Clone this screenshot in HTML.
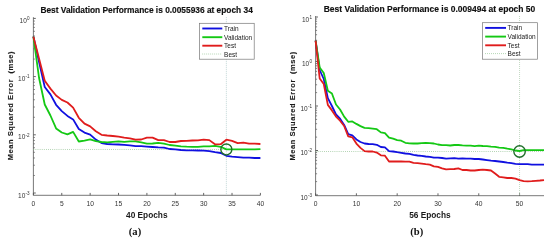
<!DOCTYPE html>
<html><head><meta charset="utf-8"><title>Performance</title>
<style>
html,body{margin:0;padding:0;background:#fff;}
body{width:550px;height:241px;overflow:hidden;}
svg{display:block;}
text{font-family:"Liberation Sans",Arial,sans-serif;}
.ti{font-size:8.35px;font-weight:bold;fill:#111;stroke:#111;stroke-width:0.15px;}
.lb{font-size:8.3px;font-weight:bold;fill:#1a1a1a;white-space:pre;}
.yl{font-size:7.5px;letter-spacing:0.54px;stroke:#1a1a1a;stroke-width:0.12px;}
.tk{font-size:6.7px;fill:#333;}
.ytk{font-size:6.5px;}
.sup{font-size:4.6px;}
.lg{font-size:6.5px;fill:#1a1a1a;}
.cap{font-family:"Liberation Serif","Times New Roman",serif;font-size:10.6px;font-weight:bold;fill:#111;}
</style></head>
<body>
<svg width="550" height="241" viewBox="0 0 550 241">
<rect width="550" height="241" fill="#fff"/>
<line x1="33.4" y1="17.2" x2="33.4" y2="195.3" stroke="#555" stroke-width="0.8"/>
<line x1="33.4" y1="195.3" x2="260.4" y2="195.3" stroke="#555" stroke-width="0.8"/>
<line x1="33.40" y1="195.3" x2="33.40" y2="192.9" stroke="#555" stroke-width="0.9"/>
<text x="33.40" y="205.5" class="tk" text-anchor="middle">0</text>
<line x1="61.77" y1="195.3" x2="61.77" y2="192.9" stroke="#555" stroke-width="0.9"/>
<text x="61.77" y="205.5" class="tk" text-anchor="middle">5</text>
<line x1="90.15" y1="195.3" x2="90.15" y2="192.9" stroke="#555" stroke-width="0.9"/>
<text x="90.15" y="205.5" class="tk" text-anchor="middle">10</text>
<line x1="118.53" y1="195.3" x2="118.53" y2="192.9" stroke="#555" stroke-width="0.9"/>
<text x="118.53" y="205.5" class="tk" text-anchor="middle">15</text>
<line x1="146.90" y1="195.3" x2="146.90" y2="192.9" stroke="#555" stroke-width="0.9"/>
<text x="146.90" y="205.5" class="tk" text-anchor="middle">20</text>
<line x1="175.28" y1="195.3" x2="175.28" y2="192.9" stroke="#555" stroke-width="0.9"/>
<text x="175.28" y="205.5" class="tk" text-anchor="middle">25</text>
<line x1="203.65" y1="195.3" x2="203.65" y2="192.9" stroke="#555" stroke-width="0.9"/>
<text x="203.65" y="205.5" class="tk" text-anchor="middle">30</text>
<line x1="232.03" y1="195.3" x2="232.03" y2="192.9" stroke="#555" stroke-width="0.9"/>
<text x="232.03" y="205.5" class="tk" text-anchor="middle">35</text>
<line x1="260.40" y1="195.3" x2="260.40" y2="192.9" stroke="#555" stroke-width="0.9"/>
<text x="260.40" y="205.5" class="tk" text-anchor="middle">40</text>
<line x1="33.4" y1="18.40" x2="35.8" y2="18.40" stroke="#555" stroke-width="0.9"/>
<line x1="33.4" y1="76.60" x2="35.8" y2="76.60" stroke="#555" stroke-width="0.9"/>
<line x1="33.4" y1="59.08" x2="34.9" y2="59.08" stroke="#555" stroke-width="0.7"/>
<line x1="33.4" y1="48.83" x2="34.9" y2="48.83" stroke="#555" stroke-width="0.7"/>
<line x1="33.4" y1="41.56" x2="34.9" y2="41.56" stroke="#555" stroke-width="0.7"/>
<line x1="33.4" y1="35.92" x2="34.9" y2="35.92" stroke="#555" stroke-width="0.7"/>
<line x1="33.4" y1="31.31" x2="34.9" y2="31.31" stroke="#555" stroke-width="0.7"/>
<line x1="33.4" y1="27.42" x2="34.9" y2="27.42" stroke="#555" stroke-width="0.7"/>
<line x1="33.4" y1="24.04" x2="34.9" y2="24.04" stroke="#555" stroke-width="0.7"/>
<line x1="33.4" y1="21.06" x2="34.9" y2="21.06" stroke="#555" stroke-width="0.7"/>
<line x1="33.4" y1="134.80" x2="35.8" y2="134.80" stroke="#555" stroke-width="0.9"/>
<line x1="33.4" y1="117.28" x2="34.9" y2="117.28" stroke="#555" stroke-width="0.7"/>
<line x1="33.4" y1="107.03" x2="34.9" y2="107.03" stroke="#555" stroke-width="0.7"/>
<line x1="33.4" y1="99.76" x2="34.9" y2="99.76" stroke="#555" stroke-width="0.7"/>
<line x1="33.4" y1="94.12" x2="34.9" y2="94.12" stroke="#555" stroke-width="0.7"/>
<line x1="33.4" y1="89.51" x2="34.9" y2="89.51" stroke="#555" stroke-width="0.7"/>
<line x1="33.4" y1="85.62" x2="34.9" y2="85.62" stroke="#555" stroke-width="0.7"/>
<line x1="33.4" y1="82.24" x2="34.9" y2="82.24" stroke="#555" stroke-width="0.7"/>
<line x1="33.4" y1="79.26" x2="34.9" y2="79.26" stroke="#555" stroke-width="0.7"/>
<line x1="33.4" y1="193.00" x2="35.8" y2="193.00" stroke="#555" stroke-width="0.9"/>
<line x1="33.4" y1="175.48" x2="34.9" y2="175.48" stroke="#555" stroke-width="0.7"/>
<line x1="33.4" y1="165.23" x2="34.9" y2="165.23" stroke="#555" stroke-width="0.7"/>
<line x1="33.4" y1="157.96" x2="34.9" y2="157.96" stroke="#555" stroke-width="0.7"/>
<line x1="33.4" y1="152.32" x2="34.9" y2="152.32" stroke="#555" stroke-width="0.7"/>
<line x1="33.4" y1="147.71" x2="34.9" y2="147.71" stroke="#555" stroke-width="0.7"/>
<line x1="33.4" y1="143.82" x2="34.9" y2="143.82" stroke="#555" stroke-width="0.7"/>
<line x1="33.4" y1="140.44" x2="34.9" y2="140.44" stroke="#555" stroke-width="0.7"/>
<line x1="33.4" y1="137.46" x2="34.9" y2="137.46" stroke="#555" stroke-width="0.7"/>
<text x="29.6" y="22.90" class="tk ytk" text-anchor="end">10<tspan class="sup" dx="0.2" dy="-2.8">0</tspan></text>
<text x="29.6" y="81.10" class="tk ytk" text-anchor="end">10<tspan class="sup" dx="0.2" dy="-2.8">-1</tspan></text>
<text x="29.6" y="139.30" class="tk ytk" text-anchor="end">10<tspan class="sup" dx="0.2" dy="-2.8">-2</tspan></text>
<text x="29.6" y="197.50" class="tk ytk" text-anchor="end">10<tspan class="sup" dx="0.2" dy="-2.8">-3</tspan></text>
<line x1="33.4" y1="149.48" x2="260.4" y2="149.48" stroke="#8cbc8c" stroke-width="0.8" stroke-dasharray="0.8 1.3"/>
<line x1="226.35" y1="17.2" x2="226.35" y2="195.3" stroke="#aec9ca" stroke-width="0.75" stroke-dasharray="1 1"/>
<polyline points="33.40,36.60 39.07,62.00 44.75,87.00 50.42,94.40 56.10,104.80 61.77,111.10 67.45,115.90 73.12,119.40 78.80,129.00 84.47,132.60 90.15,134.60 95.82,139.60 101.50,143.10 107.17,144.00 112.85,144.30 118.53,144.50 124.20,144.90 129.88,145.30 135.55,146.10 141.22,146.10 146.90,146.60 152.57,147.00 158.25,147.40 163.93,147.60 169.60,149.00 175.28,149.40 180.95,150.00 186.62,150.30 192.30,150.40 197.97,150.50 203.65,150.70 209.32,151.10 215.00,152.20 220.68,153.00 226.35,155.80 232.03,156.70 237.70,157.10 243.38,157.70 249.05,157.70 254.72,158.00 260.40,158.00" fill="none" stroke="#1010e0" stroke-width="1.8" stroke-linejoin="round"/>
<polyline points="33.40,36.60 39.07,78.00 44.75,104.50 50.42,115.50 56.10,128.40 61.77,132.50 67.45,134.40 73.12,131.90 78.80,141.50 84.47,140.60 90.15,139.40 95.82,141.20 101.50,142.00 107.17,142.40 112.85,141.80 118.53,141.40 124.20,141.80 129.88,141.40 135.55,141.40 141.22,142.40 146.90,143.60 152.57,143.50 158.25,142.80 163.93,143.60 169.60,145.00 175.28,145.60 180.95,146.40 186.62,146.70 192.30,146.80 197.97,146.80 203.65,146.30 209.32,146.30 215.00,145.90 220.68,146.80 226.35,149.40 232.03,149.30 237.70,149.30 243.38,149.30 249.05,149.30 254.72,149.30 260.40,149.10" fill="none" stroke="#14c814" stroke-width="1.8" stroke-linejoin="round"/>
<polyline points="33.40,36.60 44.75,80.80 50.42,88.60 56.10,95.50 61.77,99.90 67.45,102.50 73.12,107.60 78.80,117.80 84.47,123.60 90.15,126.40 95.82,131.30 101.50,134.80 107.17,135.50 112.85,136.00 118.53,136.60 124.20,137.60 129.88,138.30 135.55,139.70 141.22,139.50 146.90,137.60 152.57,137.60 158.25,140.10 163.93,140.10 169.60,142.00 175.28,142.00 180.95,141.00 186.62,140.80 192.30,140.50 197.97,140.30 203.65,139.70 209.32,140.10 215.00,144.30 220.68,144.20 226.35,139.70 232.03,140.90 237.70,143.10 243.38,142.70 249.05,143.70 254.72,143.70 260.40,144.00" fill="none" stroke="#e01c1c" stroke-width="1.8" stroke-linejoin="round"/>
<circle cx="226.35" cy="149.48" r="5.5" fill="none" stroke="#1f6f2a" stroke-width="1.4"/>
<rect x="199.6" y="23.3" width="54.599999999999994" height="35.900000000000006" fill="#fff" stroke="#777" stroke-width="0.7"/>
<line x1="202.3" y1="28.5" x2="222.3" y2="28.5" stroke="#1010e0" stroke-width="1.9"/>
<text x="224.1" y="31.00" class="lg">Train</text>
<line x1="202.3" y1="37.2" x2="222.3" y2="37.2" stroke="#14c814" stroke-width="1.9"/>
<text x="224.1" y="39.70" class="lg">Validation</text>
<line x1="202.3" y1="45.7" x2="222.3" y2="45.7" stroke="#e01c1c" stroke-width="1.9"/>
<text x="224.1" y="48.20" class="lg">Test</text>
<line x1="202.3" y1="54.0" x2="222.3" y2="54.0" stroke="#8fc48f" stroke-width="0.8" stroke-dasharray="0.8 1.2"/>
<text x="224.1" y="56.50" class="lg">Best</text>
<text x="146.6" y="12.5" class="ti" text-anchor="middle">Best Validation Performance is 0.0055936 at epoch 34</text>
<text x="146.8" y="217.7" class="lb" text-anchor="middle">40 Epochs</text>
<text transform="translate(12.6,105.6) rotate(-90)" class="lb yl" text-anchor="middle">Mean Squared Error  (mse)</text>
<text x="135" y="235.2" class="cap" text-anchor="middle">(a)</text>
<line x1="315.6" y1="16.0" x2="315.6" y2="195.7" stroke="#555" stroke-width="0.8"/>
<line x1="315.6" y1="195.7" x2="544.0" y2="195.7" stroke="#555" stroke-width="0.8"/>
<line x1="315.60" y1="195.7" x2="315.60" y2="193.29999999999998" stroke="#555" stroke-width="0.9"/>
<text x="315.60" y="205.89999999999998" class="tk" text-anchor="middle">0</text>
<line x1="356.39" y1="195.7" x2="356.39" y2="193.29999999999998" stroke="#555" stroke-width="0.9"/>
<text x="356.39" y="205.89999999999998" class="tk" text-anchor="middle">10</text>
<line x1="397.18" y1="195.7" x2="397.18" y2="193.29999999999998" stroke="#555" stroke-width="0.9"/>
<text x="397.18" y="205.89999999999998" class="tk" text-anchor="middle">20</text>
<line x1="437.97" y1="195.7" x2="437.97" y2="193.29999999999998" stroke="#555" stroke-width="0.9"/>
<text x="437.97" y="205.89999999999998" class="tk" text-anchor="middle">30</text>
<line x1="478.76" y1="195.7" x2="478.76" y2="193.29999999999998" stroke="#555" stroke-width="0.9"/>
<text x="478.76" y="205.89999999999998" class="tk" text-anchor="middle">40</text>
<line x1="519.55" y1="195.7" x2="519.55" y2="193.29999999999998" stroke="#555" stroke-width="0.9"/>
<text x="519.55" y="205.89999999999998" class="tk" text-anchor="middle">50</text>
<line x1="315.6" y1="17.00" x2="318.0" y2="17.00" stroke="#555" stroke-width="0.9"/>
<line x1="315.6" y1="61.50" x2="318.0" y2="61.50" stroke="#555" stroke-width="0.9"/>
<line x1="315.6" y1="48.10" x2="317.1" y2="48.10" stroke="#555" stroke-width="0.7"/>
<line x1="315.6" y1="40.27" x2="317.1" y2="40.27" stroke="#555" stroke-width="0.7"/>
<line x1="315.6" y1="34.71" x2="317.1" y2="34.71" stroke="#555" stroke-width="0.7"/>
<line x1="315.6" y1="30.40" x2="317.1" y2="30.40" stroke="#555" stroke-width="0.7"/>
<line x1="315.6" y1="26.87" x2="317.1" y2="26.87" stroke="#555" stroke-width="0.7"/>
<line x1="315.6" y1="23.89" x2="317.1" y2="23.89" stroke="#555" stroke-width="0.7"/>
<line x1="315.6" y1="21.31" x2="317.1" y2="21.31" stroke="#555" stroke-width="0.7"/>
<line x1="315.6" y1="19.04" x2="317.1" y2="19.04" stroke="#555" stroke-width="0.7"/>
<line x1="315.6" y1="106.00" x2="318.0" y2="106.00" stroke="#555" stroke-width="0.9"/>
<line x1="315.6" y1="92.60" x2="317.1" y2="92.60" stroke="#555" stroke-width="0.7"/>
<line x1="315.6" y1="84.77" x2="317.1" y2="84.77" stroke="#555" stroke-width="0.7"/>
<line x1="315.6" y1="79.21" x2="317.1" y2="79.21" stroke="#555" stroke-width="0.7"/>
<line x1="315.6" y1="74.90" x2="317.1" y2="74.90" stroke="#555" stroke-width="0.7"/>
<line x1="315.6" y1="71.37" x2="317.1" y2="71.37" stroke="#555" stroke-width="0.7"/>
<line x1="315.6" y1="68.39" x2="317.1" y2="68.39" stroke="#555" stroke-width="0.7"/>
<line x1="315.6" y1="65.81" x2="317.1" y2="65.81" stroke="#555" stroke-width="0.7"/>
<line x1="315.6" y1="63.54" x2="317.1" y2="63.54" stroke="#555" stroke-width="0.7"/>
<line x1="315.6" y1="150.50" x2="318.0" y2="150.50" stroke="#555" stroke-width="0.9"/>
<line x1="315.6" y1="137.10" x2="317.1" y2="137.10" stroke="#555" stroke-width="0.7"/>
<line x1="315.6" y1="129.27" x2="317.1" y2="129.27" stroke="#555" stroke-width="0.7"/>
<line x1="315.6" y1="123.71" x2="317.1" y2="123.71" stroke="#555" stroke-width="0.7"/>
<line x1="315.6" y1="119.40" x2="317.1" y2="119.40" stroke="#555" stroke-width="0.7"/>
<line x1="315.6" y1="115.87" x2="317.1" y2="115.87" stroke="#555" stroke-width="0.7"/>
<line x1="315.6" y1="112.89" x2="317.1" y2="112.89" stroke="#555" stroke-width="0.7"/>
<line x1="315.6" y1="110.31" x2="317.1" y2="110.31" stroke="#555" stroke-width="0.7"/>
<line x1="315.6" y1="108.04" x2="317.1" y2="108.04" stroke="#555" stroke-width="0.7"/>
<line x1="315.6" y1="195.00" x2="318.0" y2="195.00" stroke="#555" stroke-width="0.9"/>
<line x1="315.6" y1="181.60" x2="317.1" y2="181.60" stroke="#555" stroke-width="0.7"/>
<line x1="315.6" y1="173.77" x2="317.1" y2="173.77" stroke="#555" stroke-width="0.7"/>
<line x1="315.6" y1="168.21" x2="317.1" y2="168.21" stroke="#555" stroke-width="0.7"/>
<line x1="315.6" y1="163.90" x2="317.1" y2="163.90" stroke="#555" stroke-width="0.7"/>
<line x1="315.6" y1="160.37" x2="317.1" y2="160.37" stroke="#555" stroke-width="0.7"/>
<line x1="315.6" y1="157.39" x2="317.1" y2="157.39" stroke="#555" stroke-width="0.7"/>
<line x1="315.6" y1="154.81" x2="317.1" y2="154.81" stroke="#555" stroke-width="0.7"/>
<line x1="315.6" y1="152.54" x2="317.1" y2="152.54" stroke="#555" stroke-width="0.7"/>
<text x="312.0" y="21.50" class="tk ytk" text-anchor="end">10<tspan class="sup" dx="0.2" dy="-2.8">1</tspan></text>
<text x="312.0" y="66.00" class="tk ytk" text-anchor="end">10<tspan class="sup" dx="0.2" dy="-2.8">0</tspan></text>
<text x="312.0" y="110.50" class="tk ytk" text-anchor="end">10<tspan class="sup" dx="0.2" dy="-2.8">-1</tspan></text>
<text x="312.0" y="155.00" class="tk ytk" text-anchor="end">10<tspan class="sup" dx="0.2" dy="-2.8">-2</tspan></text>
<text x="312.0" y="199.50" class="tk ytk" text-anchor="end">10<tspan class="sup" dx="0.2" dy="-2.8">-3</tspan></text>
<line x1="315.6" y1="151.50" x2="544.0" y2="151.50" stroke="#8cbc8c" stroke-width="0.8" stroke-dasharray="0.8 1.3"/>
<line x1="519.55" y1="16.0" x2="519.55" y2="195.7" stroke="#b0cdb0" stroke-width="0.75" stroke-dasharray="1 1"/>
<polyline points="315.60,40.60 319.68,70.00 323.76,79.00 327.84,98.20 331.92,106.00 336.00,114.50 340.07,118.70 344.15,124.90 348.23,134.20 352.31,135.30 356.39,139.40 360.47,142.00 364.55,143.50 368.63,144.00 372.71,144.20 376.79,144.80 380.86,147.00 384.94,147.40 389.02,151.10 393.10,151.50 397.18,152.20 401.26,152.80 405.34,153.50 409.42,153.90 413.50,154.90 417.58,155.50 421.65,155.90 425.73,156.50 429.81,156.90 433.89,157.60 437.97,157.60 442.05,158.00 446.13,158.60 450.21,158.40 454.29,158.20 458.37,158.60 462.44,158.40 466.52,158.60 470.60,158.60 474.68,159.00 478.76,159.00 482.84,159.50 486.92,160.10 491.00,160.70 495.08,161.00 499.15,161.50 503.23,162.00 507.31,162.60 511.39,163.10 515.47,163.80 519.55,164.20 523.63,164.20 527.71,164.20 531.79,164.70 535.87,164.70 539.95,164.70 544.02,164.70" fill="none" stroke="#1010e0" stroke-width="1.8" stroke-linejoin="round"/>
<polyline points="315.60,40.60 319.68,67.50 323.76,73.00 327.84,90.80 331.92,93.50 336.00,104.50 340.07,109.50 344.15,116.60 348.23,121.80 352.31,121.40 356.39,123.90 360.47,126.10 364.55,127.80 368.63,128.20 372.71,128.60 376.79,129.20 380.86,132.40 384.94,133.10 389.02,137.60 393.10,138.70 397.18,140.10 401.26,140.70 405.34,142.80 409.42,143.30 413.50,143.50 417.58,143.50 421.65,143.10 425.73,142.90 429.81,143.10 433.89,143.50 437.97,144.50 442.05,145.10 446.13,145.10 450.21,145.50 454.29,145.00 458.37,145.00 462.44,145.40 466.52,145.60 470.60,145.60 474.68,146.10 478.76,145.60 482.84,146.00 486.92,146.20 491.00,146.60 495.08,146.80 499.15,147.60 503.23,147.80 507.31,148.70 511.39,149.40 515.47,150.50 519.55,151.00 523.63,150.10 527.71,150.10 531.79,150.10 535.87,150.10 539.95,150.10 544.02,150.10" fill="none" stroke="#14c814" stroke-width="1.8" stroke-linejoin="round"/>
<polyline points="315.60,40.60 319.68,78.50 323.76,84.00 327.84,104.90 331.92,110.40 336.00,116.60 340.07,120.70 344.15,126.00 348.23,136.30 352.31,137.30 356.39,143.60 360.47,147.90 364.55,151.10 368.63,151.50 372.71,151.50 376.79,152.60 380.86,155.30 384.94,155.70 389.02,161.50 393.10,161.50 397.18,161.50 401.26,161.50 405.34,161.60 409.42,161.70 413.50,162.80 417.58,163.20 421.65,163.60 425.73,164.20 429.81,164.60 433.89,166.30 437.97,166.90 442.05,168.40 446.13,169.40 450.21,169.20 454.29,169.00 458.37,168.40 462.44,170.00 466.52,170.00 470.60,170.50 474.68,170.50 478.76,170.00 482.84,169.60 486.92,170.00 491.00,170.50 495.08,173.50 499.15,176.80 503.23,177.30 507.31,178.00 511.39,178.00 515.47,178.60 519.55,180.20 523.63,181.10 527.71,181.30 531.79,181.10 535.87,180.80 539.95,180.50 544.02,180.10" fill="none" stroke="#e01c1c" stroke-width="1.8" stroke-linejoin="round"/>
<circle cx="519.55" cy="151.50" r="5.7" fill="none" stroke="#1f6f2a" stroke-width="1.4"/>
<rect x="482.5" y="22.7" width="55.0" height="36.5" fill="#fff" stroke="#777" stroke-width="0.7"/>
<line x1="485.2" y1="27.9" x2="506" y2="27.9" stroke="#1010e0" stroke-width="1.9"/>
<text x="507.6" y="30.40" class="lg">Train</text>
<line x1="485.2" y1="36.6" x2="506" y2="36.6" stroke="#14c814" stroke-width="1.9"/>
<text x="507.6" y="39.10" class="lg">Validation</text>
<line x1="485.2" y1="45.3" x2="506" y2="45.3" stroke="#e01c1c" stroke-width="1.9"/>
<text x="507.6" y="47.80" class="lg">Test</text>
<line x1="485.2" y1="53.6" x2="506" y2="53.6" stroke="#8fc48f" stroke-width="0.8" stroke-dasharray="0.8 1.2"/>
<text x="507.6" y="56.10" class="lg">Best</text>
<text x="429.5" y="11.8" class="ti" style="font-size:8.5px" text-anchor="middle">Best Validation Performance is 0.009494 at epoch 50</text>
<text x="429.9" y="218.0" class="lb" text-anchor="middle">56 Epochs</text>
<text transform="translate(294.9,105.9) rotate(-90)" class="lb yl" text-anchor="middle">Mean Squared Error  (mse)</text>
<text x="416.7" y="235.2" class="cap" text-anchor="middle">(b)</text>
</svg>
</body></html>
